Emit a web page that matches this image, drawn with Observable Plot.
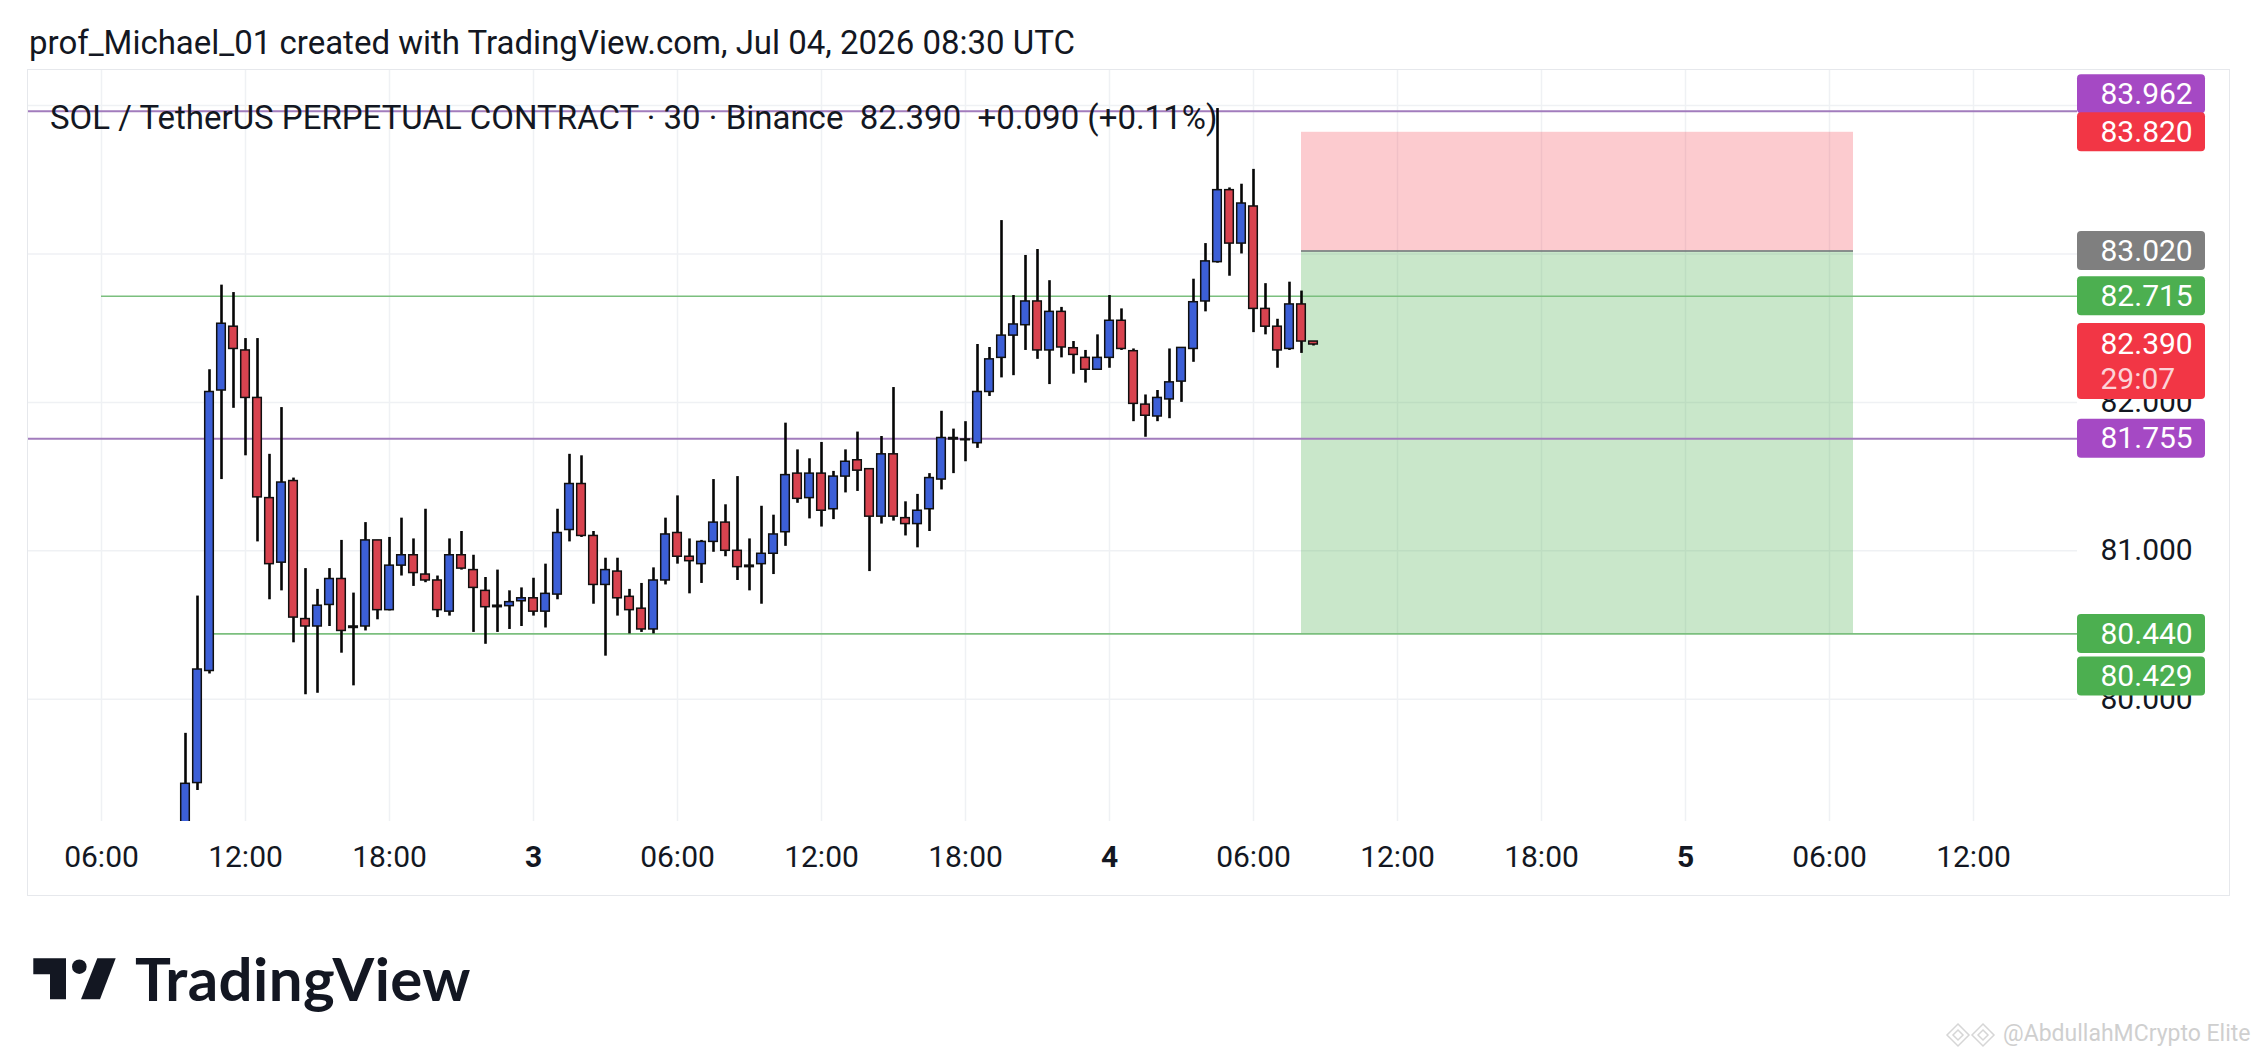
<!DOCTYPE html>
<html>
<head>
<meta charset="utf-8">
<script src="https://cdn.jsdelivr.net/npm/d3@7"></script>
<script src="https://cdn.jsdelivr.net/npm/@observablehq/plot@0.6"></script>
<style>
  html, body { margin: 0; padding: 0; background: #fff; }
  body { width: 2259px; height: 1063px; position: relative; overflow: hidden; font-family: Roboto, "Noto Sans", sans-serif; color: #131722; }
  #title { position: absolute; left: 29px; top: 23px; font-size: 33px; line-height: 40px; white-space: nowrap; }
  #chart { position: absolute; left: 27px; top: 69px; width: 2203px; height: 827px; }
  #border { position: absolute; left: 27px; top: 69px; width: 2203px; height: 827px; box-sizing: border-box; border: 1px solid #e6e8ec; pointer-events: none; }
  #legend { position: absolute; left: 50px; top: 98px; font-size: 33px; line-height: 40px; white-space: pre; color: #131722; }
  #logo { position: absolute; left: 32px; top: 955px; height: 50px; }
  #logotext { position: absolute; left: 135px; top: 942px; font-family: Lato, "Noto Sans", sans-serif; font-weight: 700; font-size: 60px; line-height: 72px; color: #131722; letter-spacing: 0.4px; }
  #markicon { position: absolute; left: 1945px; top: 1022px; }
  #mark { position: absolute; left: 2003px; top: 1020px; font-size: 23px; line-height: 28px; color: #cfcfcf; white-space: nowrap; }
</style>
</head>
<body>
<div id="title">prof_Michael_01 created with TradingView.com, Jul 04, 2026 08:30 UTC</div>
<div id="chart"></div>
<div id="border"></div>
<div id="legend">SOL / TetherUS PERPETUAL CONTRACT · 30 · Binance  82.390  +0.090 (+0.11%)</div>
<svg id="logo" width="90" height="50" viewBox="0 0 90 50">
  <path d="M1.3 3.3 H34 V44.3 H18 V19.3 H1.3 Z" fill="#131722"/>
  <circle cx="47.3" cy="11.7" r="7.3" fill="#131722"/>
  <path d="M65.3 3.3 H83.7 L68 44.3 H49 Z" fill="#131722"/>
</svg>
<div id="logotext">TradingView</div>
<svg id="markicon" width="56" height="26" viewBox="0 0 56 26">
  <path d="M13 2 L24 13 L13 24 L2 13 Z M13 8 L18 13 L13 18 L8 13 Z" fill="none" stroke="#d6d6d6" stroke-width="1.5"/>
  <path d="M38 2 L49 13 L38 24 L27 13 Z M38 8 L43 13 L38 18 L33 13 Z" fill="none" stroke="#d6d6d6" stroke-width="1.5"/>
</svg>
<div id="mark">@AbdullahMCrypto Elite</div>
<script>
// ---- data: 30-minute SOL/USDT candles, first bar 2026-07-02 09:30 UTC ----
const firstBar = "2026-07-02T09:30:00Z";
const opens  = [79.10,79.435,80.19,82.08,82.51,82.35,82.03,81.355,80.92,81.47,
                80.54,80.49,80.635,80.81,80.48,80.49,81.07,80.60,80.90,80.97,
                80.84,80.80,80.59,80.97,80.87,80.73,80.62,80.627,80.66,80.68,
                80.59,80.705,81.14,81.45,81.10,80.77,80.86,80.69,80.61,80.47,
                80.80,81.12,80.96,80.91,81.06,81.19,81.00,80.89,80.91,80.98,
                81.125,81.52,81.355,81.52,81.28,81.50,81.61,81.55,81.23,81.65,
                81.22,81.18,81.28,81.48,81.75,81.745,81.725,82.07,82.30,82.45,
                82.52,82.68,82.35,82.61,82.365,82.30,82.22,82.30,82.55,82.345,
                81.985,81.905,82.02,82.14,82.36,82.68,82.945,83.43,83.07,83.32,
                82.63,82.51,82.36,82.66,82.41];
const highs  = [79.77,80.695,82.22,82.79,82.74,82.43,82.43,81.65,81.965,81.49,
                80.88,80.74,80.88,81.07,80.715,81.19,81.07,81.09,81.22,81.08,
                81.28,80.83,81.08,81.13,80.97,80.82,80.87,80.73,80.75,80.815,
                80.91,81.28,81.65,81.64,81.13,80.95,80.95,80.74,80.78,80.885,
                81.22,81.37,81.08,81.07,81.48,81.31,81.50,81.08,81.30,81.24,
                81.86,81.68,81.62,81.73,81.535,81.68,81.80,81.55,81.77,82.10,
                81.33,81.38,81.52,81.94,81.82,81.87,82.39,82.37,83.225,82.72,
                82.99,83.03,82.82,82.64,82.41,82.35,82.455,82.72,82.63,82.36,
                82.05,82.08,82.36,82.37,82.83,83.07,83.98,83.445,83.47,83.57,
                82.80,82.56,82.81,82.75,82.41];
const lows   = [79.00,79.385,80.17,81.48,81.96,81.64,81.06,80.67,80.73,80.38,
                80.03,80.04,80.49,80.31,80.09,80.46,80.535,80.595,80.83,80.76,
                80.785,80.55,80.56,80.87,80.45,80.37,80.45,80.47,80.49,80.56,
                80.48,80.67,81.06,81.09,80.64,80.29,80.56,80.44,80.45,80.44,
                80.77,80.91,80.71,80.78,80.99,80.96,80.80,80.73,80.64,80.84,
                81.03,81.32,81.215,81.16,81.21,81.39,81.40,80.86,81.18,81.20,
                81.10,81.02,81.13,81.41,81.52,81.60,81.69,82.04,82.165,82.18,
                82.35,82.29,82.12,82.30,82.19,82.13,82.22,82.23,82.35,81.87,
                81.765,81.87,81.89,82.00,82.27,82.61,82.938,82.85,83.00,82.47,
                82.455,82.23,82.35,82.33,82.38];
const closes = [79.43,80.20,82.07,82.53,82.36,82.03,81.36,80.91,81.46,80.55,
                80.49,80.63,80.81,80.46,80.49,81.07,80.60,80.90,80.97,80.85,
                80.80,80.60,80.97,80.88,80.75,80.62,80.63,80.654,80.68,80.59,
                80.71,81.12,81.45,81.10,80.77,80.87,80.68,80.60,80.47,80.80,
                81.11,80.96,80.93,81.06,81.19,81.00,80.89,80.90,80.98,81.11,
                81.51,81.35,81.52,81.27,81.50,81.60,81.54,81.23,81.65,81.23,
                81.18,81.27,81.49,81.76,81.76,81.75,82.07,82.29,82.45,82.525,
                82.68,82.35,82.61,82.37,82.32,82.22,82.30,82.55,82.36,81.99,
                81.91,82.03,82.135,82.367,82.675,82.95,83.43,83.07,83.34,82.63,
                82.51,82.35,82.66,82.41,82.39];

// drawn horizontal levels
const lineLevels = [83.962, 82.715, 81.755, 80.440];
const lineKinds  = ["pivot", "level", "pivot", "level"];
const lineStarts = [null, "2026-07-02T06:00:00Z", null, "2026-07-02T10:30:00Z"];

// long/short position tool
const positionStart = "2026-07-04T08:00:00Z";
const positionEnd   = "2026-07-05T07:00:00Z";
const positionEntry = 83.020;
const positionStop  = 83.820;
const positionTarget = 80.440;

// price-scale tags
const tagValues = [83.962, 83.820, 83.020, 82.715, 82.390, 81.755, 80.440, 80.429];
const tagKinds  = ["pivot", "stop", "entry", "level", "last", "pivot", "level", "level"];
const lastCountdown = "29:07";

// axis ticks
const priceGrid = [80, 81, 82, 83, 84];
const priceLabels = [80, 81, 82];   // 83.000 / 84.000 sit under the tags
const hourTicks = ["2026-07-02T06:00Z","2026-07-02T12:00Z","2026-07-02T18:00Z",
                   "2026-07-03T06:00Z","2026-07-03T12:00Z","2026-07-03T18:00Z",
                   "2026-07-04T06:00Z","2026-07-04T12:00Z","2026-07-04T18:00Z",
                   "2026-07-05T06:00Z","2026-07-05T12:00Z"];
const dayTicks = ["2026-07-03T00:00Z","2026-07-04T00:00Z","2026-07-05T00:00Z"];

// ---- build ----
const t0 = new Date(firstBar);
const bars = opens.map((o, i) => ({
  t: new Date(+t0 + i * 30 * 60 * 1000), o, h: highs[i], l: lows[i], c: closes[i]
}));
const hours = hourTicks.map(d => new Date(d));
const days = dayTicks.map(d => new Date(d));
const xDomain = [new Date("2026-07-02T02:55:00Z"), new Date("2026-07-05T16:20:00Z")];
const lines = lineLevels.map((v, i) => ({v, kind: lineKinds[i], start: lineStarts[i] ? new Date(lineStarts[i]) : null, end: xDomain[1]}));

const W = 2203, H = 827, MR = 153, MB = 75;
const FW = W - MR, TAGW = 128, TAGH = 39;
const UP = "#3c5fd7", DOWN = "#d8434f";
const kindColor = {pivot: "#a549c4", stop: "#f23645", entry: "#7f7f7f", level: "#4caf50", last: "#f23645"};
const lineColor = {pivot: "#a27cbd", level: "#7bbf7e"};
const FONT = 30;

const tagShift = (i) => (i === 0 ? -17 : (i === tagValues.length - 1 ? 41 : 0));

const tagMarks = [];
tagValues.forEach((v, i) => {
  const kind = tagKinds[i];
  const s = tagShift(i);
  const top = kind === "last" ? -21 : -TAGH / 2 + s;
  const bottom = kind === "last" ? -55 : -TAGH / 2 - s;
  tagMarks.push(Plot.rect([v], {y1: d => d, y2: d => d, insetLeft: FW, insetRight: -TAGW,
    insetTop: top, insetBottom: bottom, fill: kindColor[kind], rx: 4}));
  tagMarks.push(Plot.text([v], {y: d => d, text: d => d.toFixed(3), frameAnchor: "right",
    dx: 23, dy: s, textAnchor: "start", fill: "white", fontSize: FONT}));
  if (kind === "last") {
    tagMarks.push(Plot.text([v], {y: d => d, text: () => lastCountdown, frameAnchor: "right",
      dx: 23, dy: 35, textAnchor: "start", fill: "#fcd3d7", fontSize: FONT}));
  }
});

const chart = Plot.plot({
  width: W, height: H,
  marginLeft: 0, marginRight: MR, marginTop: 0, marginBottom: MB,
  x: {type: "utc", domain: xDomain, axis: null},
  y: {domain: [79.176, 84.243], axis: null},
  style: {fontFamily: "Roboto, 'Noto Sans', sans-serif", background: "transparent", overflow: "visible"},
  marks: [
    Plot.ruleX([...hours, ...days], {x: d => d, stroke: "#eff1f4", strokeWidth: 1.5}),
    Plot.ruleY(priceGrid, {y: d => d, stroke: "#eff1f4", strokeWidth: 1.5}),
    Plot.rect([0], {x1: () => new Date(positionStart), x2: () => new Date(positionEnd), y1: () => positionEntry, y2: () => positionStop, fill: "#f23645", fillOpacity: 0.26}),
    Plot.rect([0], {x1: () => new Date(positionStart), x2: () => new Date(positionEnd), y1: () => positionTarget, y2: () => positionEntry, fill: "#4caf50", fillOpacity: 0.3}),
    Plot.ruleY([positionEntry], {y: d => d, x1: () => new Date(positionStart), x2: () => new Date(positionEnd), stroke: "#6f7277", strokeWidth: 1.5}),
    Plot.ruleY(lines.filter(d => !d.start), {y: "v", stroke: d => lineColor[d.kind], strokeWidth: 2}),
    Plot.ruleY(lines.filter(d => d.start), {y: "v", x1: "start", x2: "end", stroke: d => lineColor[d.kind], strokeWidth: 1.6}),
    Plot.ruleX(bars, {x: "t", y1: "l", y2: "h", stroke: "#050505", strokeWidth: 2.6, clip: true}),
    Plot.rect(bars.filter(d => d.c >= d.o), {x1: "t", x2: "t", y1: "o", y2: "c", insetLeft: -4.3, insetRight: -4.3, fill: UP, stroke: "#101010", strokeWidth: 1.5, clip: true}),
    Plot.rect(bars.filter(d => d.c < d.o), {x1: "t", x2: "t", y1: "o", y2: "c", insetLeft: -4.3, insetRight: -4.3, fill: DOWN, stroke: "#101010", strokeWidth: 1.5, clip: true}),
    Plot.text(priceLabels, {y: d => d, text: d => d.toFixed(3), frameAnchor: "right", dx: 23, textAnchor: "start", fill: "#131722", fontSize: FONT}),
    ...tagMarks,
    Plot.text(hours, {x: d => d, text: d => d3.utcFormat("%H:%M")(d), frameAnchor: "bottom", dy: 45, fill: "#131722", fontSize: FONT}),
    Plot.text(days, {x: d => d, text: d => d3.utcFormat("%-d")(d), frameAnchor: "bottom", dy: 45, fill: "#131722", fontSize: FONT, fontWeight: "bold"})
  ]
});
document.getElementById("chart").appendChild(chart);
</script>
</body>
</html>
